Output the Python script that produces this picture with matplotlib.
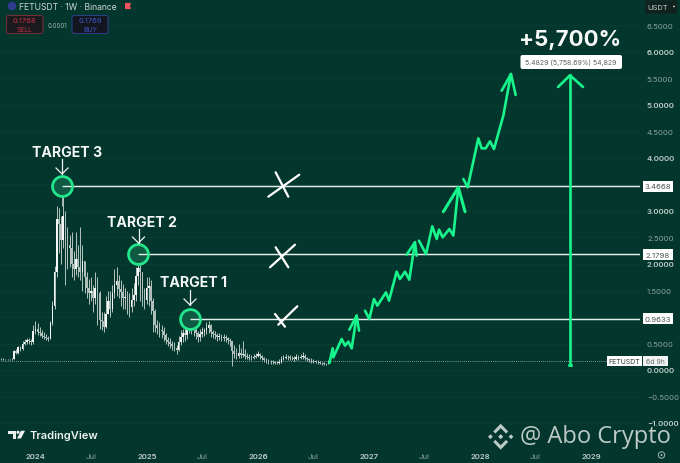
import matplotlib
matplotlib.use("Agg")
import matplotlib.pyplot as plt
from matplotlib.patches import Polygon, Rectangle, FancyBboxPatch, Circle
import numpy as np

plt.rcParams['font.family'] = ['Inter', 'DejaVu Sans']

closes = [.21,.21,.20,.20,.20,.21,.36,.33,.43,.40,
          .50,.53,.57,.54,.53,.74,.78,.72,.70,.64,
          .63,.61,.59,.88,1.2,1.85,2.85,2.75,2.45,2.9,
          2.6,2.35,2.3,2.0,1.9,2.1,1.95,1.85,2.05,1.75,
          1.55,1.45,1.5,1.35,1.55,1.45,.95,.92,.82,1.05,
          1.3,1.15,1.45,1.6,1.68,1.52,1.48,1.35,1.38,1.25,
          1.18,1.32,1.42,1.78,1.92,1.85,1.4,1.32,1.55,1.58,
          1.3,1.12,.85,.80,.76,.74,.66,.57,.52,.50,
          .45,.42,.38,.52,.62,.70,.66,.82,.85,.80,
          .76,.70,.62,.68,.72,.75,.80,.84,.72,.68,
          .66,.62,.64,.60,.62,.60,.56,.54,.36,.30,
          .26,.32,.28,.31,.26,.25,.23,.22,.24,.27,
          .30,.26,.22,.19,.17,.16,.15,.15,.14,.14,
          .15,.20,.22,.25,.24,.23,.22,.21,.24,.23,
          .25,.27,.22,.21,.19,.18,.17,.16,.15,.14,
          .13,.12,.12,.176]
highs = [.22,.22,.21,.21,.21,.22,.38,.40,.46,.46,
         .54,.58,.60,.60,.58,.85,.92,.88,.82,.76,
         .72,.68,.65,.92,1.3,1.97,3.1,3.05,2.9,3.47,
         3.0,2.7,2.55,2.6,2.25,2.6,2.35,2.7,2.35,2.05,
         1.85,1.72,1.75,1.6,1.85,1.75,1.5,1.1,1.1,1.4,
         1.5,1.5,1.6,1.9,1.95,1.8,1.7,1.62,1.55,1.5,
         1.45,1.55,1.65,1.95,2.15,2.1,1.85,1.55,1.75,1.75,
         1.7,1.35,1.15,.95,.90,.85,.82,.70,.62,.60,
         .55,.52,.48,.65,.75,.78,.82,.90,.98,.90,
         .88,.82,.74,.78,.82,.80,.90,.92,.86,.76,
         .74,.70,.70,.68,.68,.66,.63,.60,.55,.48,
         .42,.50,.42,.55,.40,.32,.30,.28,.30,.33,
         .36,.33,.28,.25,.22,.20,.19,.18,.17,.17,
         .20,.26,.28,.31,.29,.28,.27,.26,.30,.28,
         .30,.34,.30,.25,.23,.22,.20,.19,.18,.17,
         .16,.15,.14,.19]
lows = [.19,.19,.19,.19,.19,.19,.20,.30,.30,.36,
        .38,.47,.50,.50,.48,.50,.68,.66,.64,.60,
        .58,.57,.55,.58,.85,1.15,1.75,2.2,2.0,2.3,
        1.6,1.9,1.95,1.75,1.7,1.8,1.75,1.7,1.5,1.45,
        1.35,1.25,1.3,1.1,1.25,.85,.78,.75,.72,.8,
        1.05,1.0,1.1,1.35,1.4,1.35,1.2,1.15,1.15,1.05,
        1.0,1.1,1.2,1.3,1.6,1.3,1.2,1.15,1.25,1.2,
        1.05,.72,.72,.68,.62,.60,.55,.50,.45,.42,
        .38,.35,.30,.36,.48,.52,.55,.58,.70,.68,
        .65,.58,.52,.55,.62,.64,.68,.70,.62,.60,
        .58,.55,.56,.54,.54,.52,.50,.46,.08,.22,
        .20,.22,.22,.24,.20,.20,.19,.18,.20,.22,
        .24,.21,.18,.15,.13,.12,.12,.12,.11,.11,
        .12,.14,.18,.20,.19,.18,.18,.17,.18,.19,
        .20,.21,.18,.17,.15,.14,.14,.13,.12,.11,
        .10,.10,.10,.11]
first_week = 2023.686
week_years = 1 / 51.9

levels = [0.9633, 2.1798, 3.4668]
level_labels = ["0.9633", "2.1798", "3.4668"]
target_names = ["TARGET 1", "TARGET 2", "TARGET 3"]
target_years = [2025.387, 2024.923, 2024.234]
last_price = 0.176

y_ticks = [-1, -.5, 0, .5, 1.5, 2, 2.5, 3, 4, 4.5, 5, 5.5, 6, 6.5]
grid_only_ticks = [1, 3.5]
x_ticks = [2024, 2024.5, 2025, 2025.5, 2026, 2026.5, 2027, 2027.5, 2028, 2028.5, 2029]
x_labels = ["2024", "Jul", "2025", "Jul", "2026", "Jul", "2027", "Jul", "2028", "Jul", "2029"]

path_years = [2026.643,2026.673,2026.679,2026.754,2026.784,2026.814,2026.844,2026.889]
path_price = [0.132,0.409,0.239,0.585,0.459,0.535,0.409,1.025]
head1_years = [2026.823,2026.889,2026.910]
head1_price = [0.761,1.025,0.742]
path2_years = [2026.964,2027.003,2027.045,2027.075,2027.153,2027.180,2027.249,2027.279,2027.324,2027.363,2027.414]
path2_price = [1.119,0.962,1.340,1.214,1.465,1.308,1.855,1.717,1.855,1.704,2.409]
head2_years = [2027.339,2027.414,2027.429]
head2_price = [2.176,2.409,2.157]
path3_years = [2027.450,2027.514,2027.570,2027.610,2027.631,2027.664,2027.724,2027.760,2027.805]
path3_price = [2.440,2.189,2.711,2.472,2.648,2.503,2.660,2.535,3.447]
head3_years = [2027.670,2027.805,2027.865]
head3_price = [2.987,3.447,2.987]
path4_years = [2027.850,2027.889,2027.985,2028.015,2028.051,2028.090,2028.126,2028.210,2028.279]
path4_price = [3.604,3.447,4.371,4.182,4.182,4.315,4.170,4.799,5.585]
head4_years = [2028.195,2028.279,2028.321]
head4_price = [5.270,5.585,5.189]
measure_year = 2028.811
measure_price = [0.09, 5.56]
measure_head_years = [2028.703, 2028.811, 2028.928]
measure_head_price = [5.34, 5.56, 5.34]
cross_years = [[2026.093,2026.372,2026.159,2026.273],
               [2026.108,2026.333,2026.159,2026.273],
               [2026.183,2026.354,2026.153,2026.243]]
cross_price = [[3.270,3.685,3.730,3.270],
               [1.938,2.364,2.315,1.938],
               [0.855,1.202,1.057,0.817]]

W, H = 680, 464
BG = '#03362C'
fig = plt.figure(figsize=(W / 100, H / 100), dpi=100, facecolor=BG)
AXR, AXB = 640, 441
ax = fig.add_axes([0, 1 - AXB / H, AXR / W, AXB / H], facecolor=BG)
ax.set_xlim(2024 - 36 / 111, 2024 + (AXR - 36) / 111)
ax.set_ylim((371 - AXB) / 53, 371 / 53)
for s in ax.spines.values():
    s.set_visible(False)
ax.yaxis.tick_right()
ax.set_yticks(y_ticks)
ax.set_yticklabels([f"{v:.4f}".replace("-", "\u2212") for v in y_ticks])
ax.set_xticks(x_ticks)
ax.set_xticklabels(x_labels)
ax.tick_params(axis='y', length=0, pad=5, labelsize=5.6)
ax.tick_params(axis='x', length=0, pad=9.5, labelsize=5.6)
for v, t in zip(y_ticks, ax.get_yticklabels()):
    main = float(v).is_integer()
    t.set_color('#C3D0CB' if main else '#8CA39C')
    t.set_fontweight('semibold' if main else 'normal')
for lab, t in zip(x_labels, ax.get_xticklabels()):
    t.set_color('#8CA39C' if lab == "Jul" else '#C3D0CB')
    t.set_fontweight('normal' if lab == "Jul" else 'semibold')
ax.grid(axis='y', color='#083D32', lw=0.7)
ax.hlines(grid_only_ticks, *ax.get_xlim(), color='#083D32', lw=0.7, zorder=0.5)
ax.set_axisbelow(True)

n = len(closes)
assert n == len(highs) == len(lows)
xs = first_week + np.arange(n) * week_years
c = np.array(closes)
o = np.r_[c[0], c[:-1]]
up = c >= o
ax.vlines(xs, lows, highs, color='#B4C3BD', lw=0.7, zorder=3)
ax.bar(xs[up], (c - o)[up], bottom=o[up], width=1.6 / 111, color='#F4F7F5', zorder=4)
ax.bar(xs[~up], (o - c)[~up], bottom=c[~up], width=1.6 / 111, color='#B0BEB9', zorder=4)

ax.hlines(last_price, xs[0], 2024 + (607 - 36) / 111, color='#A8BAB4', lw=0.6, linestyles=(0, (1, 1.5)), zorder=2)

for lv, ty in zip(levels, target_years):
    ax.hlines(lv, ty, ax.get_xlim()[1], color='#E4EEEA', lw=1.05, zorder=5)
ax.vlines(target_years[2], levels[2], 3.1, color='#A9B9B3', lw=0.7, zorder=3)
ax.scatter(target_years, levels, s=205, facecolor='#0E5A42', edgecolor='#22E68C', lw=2.0, zorder=6)
ax.hlines(levels, target_years, np.array(target_years) + 9 / 111, color='#E4EEEA', lw=1.0, zorder=7)

G = '#17F58C'
for px, py, lw in [(path_years, path_price, 1.9), (head1_years, head1_price, 1.9),
                   (path2_years, path2_price, 1.9), (head2_years, head2_price, 1.9),
                   (path3_years, path3_price, 1.9), (head3_years, head3_price, 2.2),
                   (path4_years, path4_price, 1.9), (head4_years, head4_price, 1.9)]:
    ax.plot(px, py, color=G, lw=lw, solid_joinstyle='round', solid_capstyle='round', zorder=8)
ax.plot([measure_year, measure_year], measure_price, color=G, lw=1.9, zorder=8)
ax.plot(measure_head_years, measure_head_price, color=G, lw=1.9, solid_capstyle='round', zorder=8)
ax.plot([measure_year - 0.012, measure_year + 0.012], [measure_price[0]] * 2, color=G, lw=1.9, zorder=8)

for cx, cy in zip(cross_years, cross_price):
    ax.plot(cx[:2], cy[:2], color='white', lw=1.6, solid_capstyle='round', zorder=9)
    ax.plot(cx[2:], cy[2:], color='white', lw=1.6, solid_capstyle='round', zorder=9)

# overlay in pixel units for the chart furniture
ov = fig.add_axes([0, 0, 1, 1], facecolor='none', zorder=10)
ov.set_xlim(0, W)
ov.set_ylim(H, 0)
ov.axis('off')

def box(x0, y0, x1, y1, fc, ec='none', lw=0, r=0):
    if r:
        ov.add_patch(FancyBboxPatch((x0 + r, y0 + r), x1 - x0 - 2 * r, y1 - y0 - 2 * r,
                                    boxstyle=f"round,pad={r},rounding_size={r}", fc=fc, ec=ec, lw=lw))
    else:
        ov.add_patch(Rectangle((x0, y0), x1 - x0, y1 - y0, fc=fc, ec=ec, lw=lw))

def txt(x, y, s, size, color, weight='normal', ha='center', **kw):
    ov.text(x, y, s, fontsize=size, color=color, fontweight=weight, ha=ha, va='center', **kw)

# target titles and small arrows
for name, x, y in [("TARGET 3", 67, 153), ("TARGET 2", 142, 223), ("TARGET 1", 194, 283)]:
    txt(x, y, name, 10.2, '#F2F6F4', 'bold')
for x, y0, y1 in [(62, 160, 175), (138.5, 230, 244), (190, 291, 306)]:
    ov.plot([x, x], [y0, y1], color='#EEF3F1', lw=0.9)
    ov.plot([x - 6, x, x + 6], [y1 - 6, y1, y1 - 6], color='#EEF3F1', lw=0.9)

# price labels
for lab, lv in zip(level_labels, levels):
    yp = 371 - lv * 53
    box(643, yp - 5.5, 673, yp + 5.5, 'white')
    txt(658, yp + 0.2, lab, 5.6, '#4A5552')
yp = 362
box(607, yp - 5, 642, yp + 5, 'white')
box(642.5, yp - 5, 668, yp + 5, '#F0F3F2')
txt(624.5, yp, "FETUSDT", 5.0, '#333B39')
txt(655, yp, "6d 9h", 5.0, '#6A7572')

# measure label
txt(570, 40, "+5,700%", 16, '#F7F9F8', 'bold')
box(520.5, 56, 622, 70, 'white', r=2)
txt(571, 63.2, "5.4829 (5,758.69%) 54,829", 5.0, '#59625F')

# header
ov.add_patch(Circle((12, 7), 4.3, fc='#2F3C8F', ec='none'))
txt(19, 7.2, "FETUSDT \u00b7 1W \u00b7 Binance", 6.2, '#CBD6D2', ha='left')
ov.add_patch(Polygon([(125, 4), (131, 4), (130, 7), (131, 10), (125, 10)], fc='#F7525F', ec='none'))
box(6.5, 16.5, 43, 34.5, '#1A1A1E', '#71303A', 0.8, r=2)
txt(24.5, 21, "0.1768", 5.4, '#C23245')
txt(24.5, 29.5, "SELL", 4.8, '#C23245')
txt(57.5, 25.5, "0.0001", 4.4, '#A9B8B3')
box(72, 16.5, 108, 34.5, '#14161F', '#2A3E86', 0.8, r=2)
txt(90, 21, "0.1769", 5.4, '#3F5BC8')
txt(90, 29.5, "BUY", 4.8, '#3F5BC8')

# currency box
box(645, 1.5, 677, 14.5, '#11211D', r=2)
txt(647, 7.8, "USDT", 5.4, '#C3D0CB', ha='left')
ov.add_patch(Polygon([(672.5, 6.8), (675.5, 6.8), (674, 8.6)], fc='#C3D0CB', ec='none'))

# TradingView mark
LOGO = '#EDF2F0'
ov.add_patch(Polygon([(8, 431.7), (16, 431.7), (16, 439.5), (12.5, 439.5), (12.5, 435), (8, 435)], fc=LOGO, ec='none'))
ov.add_patch(Circle((18, 433.3), 1.6, fc=LOGO, ec='none'))
ov.add_patch(Polygon([(21, 431.7), (25, 431.7), (21, 439.5), (17, 439.5)], fc=LOGO, ec='none'))
txt(29, 436, "TradingView", 8.0, LOGO, 'semibold', ha='left')

# watermark
WM = '#BCCBC6'
cx, cy = 500.7, 437.7
for dx, dy, r in [(0, 0, 2.6), (-10.3, 0, 2.4), (10.3, 0, 2.4)]:
    ov.add_patch(Polygon([(cx + dx - r, cy + dy), (cx + dx, cy + dy - r), (cx + dx + r, cy + dy), (cx + dx, cy + dy + r)], fc=WM, ec='none'))
for s in (-1, 1):
    ov.add_patch(Polygon([(cx - 7.5, cy + s * 5.2), (cx, cy + s * 13), (cx + 7.5, cy + s * 5.2),
                          (cx + 5.3, cy + s * 3.2), (cx, cy + s * 8.5), (cx - 5.3, cy + s * 3.2)], fc=WM, ec='none'))
ov.text(520, 437, "@ Abo Crypto", fontsize=17, color=WM, ha='left', va='center', family=['Open Sans', 'DejaVu Sans'])

# settings glyph
ov.add_patch(Circle((661.5, 456), 3.2, fc='none', ec='#A9B8B3', lw=0.7))
ov.add_patch(Circle((661.5, 456), 1.0, fc='#A9B8B3', ec='none'))

fig.savefig("out.png", dpi=100, facecolor=BG)
